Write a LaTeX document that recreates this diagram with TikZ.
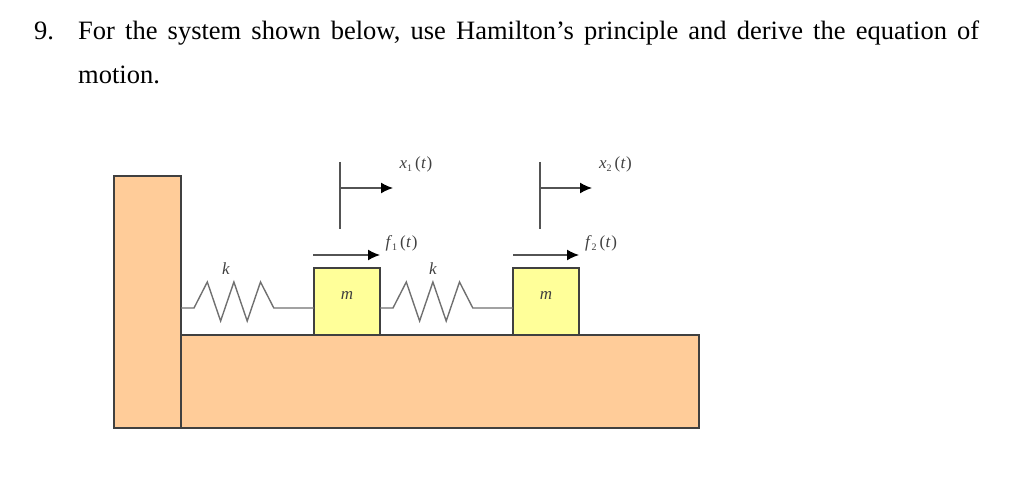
\documentclass[tikz,border=0pt]{standalone}
\usepackage{fontspec}
\setmainfont{Liberation Serif}
\usetikzlibrary{arrows.meta}
\definecolor{blockorange}{HTML}{FFCC99}
\definecolor{blockyellow}{HTML}{FFFF99}
\definecolor{edgegray}{HTML}{404040}
\newcommand{\timelabel}[2]{\textit{#1}\raisebox{-2.5pt}{\fontsize{10}{10}\selectfont #2}\,(\kern.5pt\textit{t}\kern.5pt)}
\tikzset{
    block/.style={shape=rectangle, draw=edgegray, line width=1.2pt, inner sep=0pt, outer sep=0pt},
    springline/.style={draw=edgegray!75, line width=1.4pt},
    marker/.style={draw=edgegray!90, line width=1.4pt},
    pointer/.style={draw=edgegray!90, line width=1.4pt, -{Latex[length=12pt,width=11pt,black]}},
    tag/.style={text=edgegray, inner sep=0pt, font=\fontsize{17}{19}\selectfont}
}
\begin{document}
\begin{tikzpicture}[x=1pt,y=-1pt]
            \useasboundingbox (0,0) rectangle (1012,478);

            \node[anchor=base west, inner sep=0pt, font=\fontsize{26.5}{30}\selectfont] (Num) at (34,40) {9.};
            \node[anchor=base west, inner sep=0pt, font=\fontsize{26.5}{30}\selectfont] (Line1) at (78,40) {\hbox to 901pt{For\hfill the\hfill system\hfill shown\hfill below,\hfill use\hfill Hamilton’s\hfill principle\hfill and\hfill derive\hfill the\hfill equation\hfill of}};
            \node[anchor=base west, inner sep=0pt, font=\fontsize{26.5}{30}\selectfont] (Line2) at (78,84) {motion.};

            \node[block, fill=blockorange, minimum width=518pt, minimum height=93pt] (Base) at (440,381.5) {};
            \node[block, fill=blockorange, minimum width=67pt, minimum height=252pt] (Wall) at (147.5,302) {};
            \node[block, fill=blockyellow, minimum width=66pt, minimum height=67pt] (M1) at (347,301.5) {};
            \node[block, fill=blockyellow, minimum width=66pt, minimum height=67pt] (M2) at (546,301.5) {};

            \node[tag] (Mass1) at (347,295) {\textit{m}};
            \node[tag] (Mass2) at (546,295) {\textit{m}};
            \node[tag] (K1) at (226,268.5) {\textit{k}};
            \node[tag] (K2) at (433,268.5) {\textit{k}};
            \node[tag] (X1) at (416,164.5) {\timelabel{x}{1}};
            \node[tag] (X2) at (615.5,164.5) {\timelabel{x}{2}};
            \node[tag] (F1) at (401.5,243.5) {\timelabel{f}{1}};
            \node[tag] (F2) at (601,243.5) {\timelabel{f}{2}};

            \coordinate (S1) at (181,308);
            \coordinate (S2) at (380,308);
            \coordinate (E1) at (314,308);
            \coordinate (E2) at (513,308);
            \draw[springline] (S1) -- ++(13,0) -- ++(13.3,-26) -- ++(13.3,39) -- ++(13.3,-39) -- ++(13.3,39) -- ++(13.3,-39) -- ++(13.3,26) -- (E1);
            \draw[springline] (S2) -- ++(13,0) -- ++(13.3,-26) -- ++(13.3,39) -- ++(13.3,-39) -- ++(13.3,39) -- ++(13.3,-39) -- ++(13.3,26) -- (E2);

            \coordinate (T1) at (340,162);
            \coordinate (B1) at (340,229);
            \coordinate (L1) at (340,188);
            \coordinate (R1) at (393,188);
            \coordinate (T2) at (539.8,162);
            \coordinate (B2) at (539.8,229);
            \coordinate (L2) at (539.8,188);
            \coordinate (R2) at (592,188);
            \draw[marker] (T1) -- (B1);
            \draw[marker] (T2) -- (B2);
            \draw[pointer] (L1) -- (R1);
            \draw[pointer] (L2) -- (R2);

            \coordinate (FL1) at (313,255);
            \coordinate (FR1) at (380,255);
            \coordinate (FL2) at (513,255);
            \coordinate (FR2) at (579,255);
            \draw[pointer] (FL1) -- (FR1);
            \draw[pointer] (FL2) -- (FR2);
\end{tikzpicture}
\end{document}
